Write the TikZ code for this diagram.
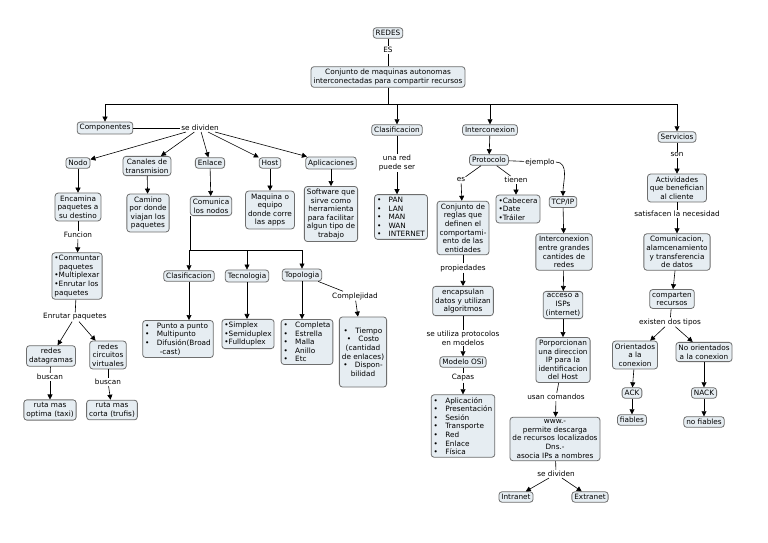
\documentclass[tikz,border=0pt]{standalone}
\usepackage{fontspec}
\setmainfont{DejaVu Sans}
\usetikzlibrary{arrows.meta}
\definecolor{boxfill}{HTML}{E6EDF2}
\definecolor{boxline}{HTML}{6E6E6E}
\tikzset{
  box/.style={draw=boxline, fill=boxfill, rounded corners=3pt, line width=0.8pt,
    align=center, inner sep=2.5pt, font=\fontsize{7.3}{8.6}\selectfont},
  lst/.style={box, align=left},
  lbl/.style={inner sep=1pt, align=center, font=\fontsize{7.3}{8.6}\selectfont, fill=white},
  arr/.style={-{Triangle[length=5pt,width=5pt]}, line width=0.6pt},
  ln/.style={line width=0.6pt},
}
\begin{document}
\begin{tikzpicture}[x=1pt,y=-1pt]
  \useasboundingbox[fill=white] (0,0) rectangle (768,543);
  % top
  \node[box] (redes) at (388,33) {REDES};
  \node[lbl] (es) at (388,50) {ES};
  \node[box] (conj) at (388,77) {Conjunto de maquinas autonomas\\interconectadas para compartir recursos};
  \coordinate (bus) at (388,104);
  \node[box] (comp) at (105,128) {Componentes};
  \node[box] (clas) at (397,130) {Clasificacion};
  \node[box] (inter) at (490,130) {Interconexion};
  \node[box] (serv) at (677,137) {Servicios};
  \draw[ln] (redes) -- (es) -- (conj) -- (bus);
  \draw[ln] (bus-|comp) -- (bus-|serv);
  \foreach \n in {comp, clas, inter, serv}
    \draw[arr] (bus-|\n) -- (\n);
  % componentes
  \node[lbl] (sediv) at (200,128) {se dividen};
  \node[box] (nodo) at (78,163) {Nodo};
  \node[box] (canal) at (147,166) {Canales de\\transmision};
  \node[box] (enlace) at (210,163) {Enlace};
  \node[box] (host) at (270,163) {Host};
  \node[box] (apli) at (331,163) {Aplicaciones};
  \draw[ln] (comp) -- (sediv);
  \foreach \n in {nodo, canal, enlace, host, apli}
    \draw[arr] (sediv) -- (\n);
  \node[box] (encam) at (78,207) {Encamina\\paquetes a\\su destino};
  \node[box] (camino) at (148,213) {Camino\\por donde\\viajan los\\paquetes};
  \node[box] (comun) at (211,206) {Comunica\\los nodos};
  \node[box] (maq) at (270,210) {Maquina o\\equipo\\donde corre\\las apps};
  \node[box] (soft) at (331,214) {Software que\\sirve como\\herramienta\\para facilitar\\algun tipo de\\trabajo};
  \draw[arr] (nodo) -- (encam);
  \draw[arr] (canal) -- (camino);
  \draw[arr] (enlace) -- (comun);
  \draw[arr] (host) -- (maq);
  \draw[arr] (apli) -- (soft);
  % nodo
  \node[lbl] (func) at (78,235) {Funcion};
  \node[lst] (conm) at (77,276) {•Conmuntar\\\ \ paquetes\\•Multiplexar\\•Enrutar los\\paquetes};
  \draw[ln] (encam) -- (func);
  \draw[arr] (func) -- (conm);
  \node[lbl] (enrut) at (75,317) {Enrutar paquetes};
  \node[box] (datag) at (51,356) {redes\\datagramas};
  \node[box] (circ) at (108,355) {redes\\circuitos\\virtuales};
  \draw[ln] (conm) -- (enrut);
  \draw[arr] (enrut) -- (datag);
  \draw[arr] (enrut) -- (circ);
  \node[lbl] (busc1) at (50,377) {buscan};
  \node[lbl] (busc2) at (108,382) {buscan};
  \node[box] (optima) at (50,410) {ruta mas\\optima (taxi)};
  \node[box] (corta) at (112,410) {ruta mas\\corta (trufis)};
  \draw[ln] (datag) -- (busc1);
  \draw[arr] (busc1) -- (optima);
  \draw[ln] (circ) -- (busc2);
  \draw[arr] (busc2) -- (corta);
  % enlace
  \coordinate (ebus) at (190,250);
  \node[box] (eclas) at (189,276) {Clasificacion};
  \node[box] (tecno) at (247,276) {Tecnologia};
  \node[box] (topo) at (302,275) {Topologia};
  \draw[ln] (ebus|-comun.south) -- (ebus) -- (ebus-|topo);
  \foreach \n in {eclas, tecno, topo}
    \draw[arr] (ebus-|\n) -- (\n);
  \node[lst] (punto) at (178,339) {•\quad Punto a punto\\•\quad Multipunto\\•\quad Difusión(Broad\\\qquad -cast)};
  \node[lst] (simplex) at (248,334) {•Simplex\\•Semiduplex\\•Fullduplex};
  \node[lst] (compl) at (307,342) {•\quad Completa\\•\quad Estrella\\•\quad Malla\\•\quad Anillo\\•\quad Etc};
  \draw[arr] (eclas) -- (eclas|-punto.north);
  \draw[arr] (tecno) -- (tecno|-simplex.north);
  \draw[arr] (topo) -- (topo|-compl.north);
  \node[lbl] (complej) at (355,296) {Complejidad};
  \node[box, minimum height=70pt] (tiempo) at (363,352) {•\quad Tiempo\\•\quad Costo\\(cantidad\\de enlaces)\\•\quad Dispon-\\bilidad};
  \draw[ln] (topo) -- (complej);
  \draw[arr] (complej) -- (tiempo);
  % clasificacion
  \node[lbl] (unared) at (397,163) {una red\\puede ser};
  \node[lst] (pan) at (401,217) {•\quad PAN\\•\quad LAN\\•\quad MAN\\•\quad WAN\\•\quad INTERNET};
  \draw[ln] (clas) -- (unared);
  \draw[arr] (unared) -- (unared|-pan.north);
  % interconexion
  \node[box] (proto) at (489,160) {Protocolo};
  \draw[arr] (inter) -- (proto);
  \node[lbl] (ejem) at (540,162) {ejemplo};
  \node[box] (tcp) at (563,202) {TCP/IP};
  \draw[ln] (proto) -- (ejem);
  \draw[arr] (ejem.east) to[out=0,in=90] (tcp);
  \node[lbl] (esl) at (461,180) {es};
  \node[lbl] (tienen) at (516,180) {tienen};
  \node[box] (reglas) at (463,228) {Conjunto de\\reglas que\\definen el\\comportami-\\ento de las\\entidades};
  \node[lst] (cabe) at (518,209) {•Cabecera\\•Date\\•Tráiler};
  \draw[ln] (proto) -- (esl);
  \draw[arr] (esl) -- (reglas);
  \draw[ln] (proto) -- (tienen);
  \draw[arr] (tienen) -- (tienen|-cabe.north);
  \node[lbl] (prop) at (463,268) {propiedades};
  \node[box] (encap) at (463,301) {encapsulan\\datos y utilizan\\algoritmos};
  \draw[ln] (reglas) -- (prop);
  \draw[arr] (prop) -- (encap);
  \node[lbl] (seuti) at (463,338) {se utiliza protocolos\\en modelos};
  \node[box] (osi) at (463,362) {Modelo OSI};
  \draw[ln] (encap) -- (seuti);
  \draw[arr] (seuti) -- (osi);
  \node[lbl] (capas) at (463,378) {Capas};
  \node[lst] (capl) at (463,426) {•\quad Aplicación\\•\quad Presentación\\•\quad Sesión\\•\quad Transporte\\•\quad Red\\•\quad Enlace\\•\quad Física};
  \draw[ln] (osi) -- (capas);
  \draw[arr] (capas) -- (capl);
  % tcp/ip
  \node[box] (igrand) at (564,252) {Interconexion\\entre grandes\\cantides de\\redes};
  \node[box] (isp) at (563,305) {acceso a\\ISPs\\(internet)};
  \node[box] (porp) at (563,360) {Porporcionan\\una direccion\\IP para la\\identificacion\\del Host};
  \draw[arr] (tcp) -- (igrand);
  \draw[arr] (igrand) -- (isp);
  \draw[arr] (isp) -- (porp);
  \node[lbl] (usan) at (556,397) {usan comandos};
  \node[box] (www) at (555,439) {www.-\\permite descarga\\de recursos localizados\\Dns.-\\asocia IPs a nombres};
  \draw[ln] (porp) -- (usan);
  \draw[arr] (usan) -- (www);
  \node[lbl] (sediv2) at (556,474) {se dividen};
  \node[box] (intra) at (516,497) {Intranet};
  \node[box] (extra) at (590,497) {Extranet};
  \draw[ln] (www) -- (sediv2);
  \draw[arr] (sediv2) -- (intra);
  \draw[arr] (sediv2) -- (extra);
  % servicios
  \node[lbl] (son) at (677,155) {son};
  \node[box] (activ) at (677,188) {Actividades\\que benefician\\al cliente};
  \draw[ln] (serv) -- (son);
  \draw[arr] (son) -- (activ);
  \node[lbl] (satis) at (677,214) {satisfacen la necesidad};
  \node[box] (comu) at (677,252) {Comunicacion,\\alamcenamiento\\y transferencia\\de datos};
  \draw[ln] (activ) -- (satis);
  \draw[arr] (satis) -- (comu);
  \node[box] (compart) at (672,299) {comparten\\recursos};
  \draw[arr] (comu) -- (compart);
  \node[lbl] (exist) at (670,322) {existen dos tipos};
  \node[box] (orient) at (635,355) {Orientados\\a la\\conexion};
  \node[box] (norient) at (704,352) {No orientados\\a la conexion};
  \draw[ln] (compart) -- (exist);
  \draw[arr] (exist) -- (orient);
  \draw[arr] (exist) -- (norient);
  \node[box] (ack) at (632,393) {ACK};
  \node[box] (nack) at (704,393) {NACK};
  \node[box] (fiab) at (632,420) {fiables};
  \node[box] (nfiab) at (704,422) {no fiables};
  \draw[arr] (orient) -- (ack);
  \draw[arr] (ack) -- (fiab);
  \draw[arr] (norient) -- (nack);
  \draw[arr] (nack) -- (nfiab);
\end{tikzpicture}
\end{document}
